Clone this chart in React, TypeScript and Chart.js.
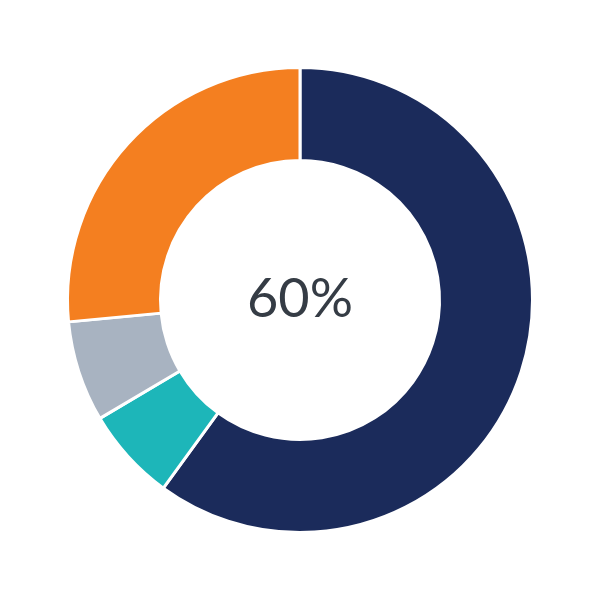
import React, { useEffect, useRef } from "react";
import { Chart, registerables } from "chart.js";

Chart.register(...registerables);

const labels = ["Navy", "Teal", "Gray", "Orange"];
const values = [60, 6.5, 7, 26.5];
const colors = ["#1b2b5b", "#1db6b9", "#a8b3c1", "#f47f20"];
const centerText = "60%";

export default function App() {
  const ref = useRef<HTMLCanvasElement | null>(null);
  useEffect(() => {
    if (!ref.current) return;
    const centerPlugin = {
      id: "centerText",
      afterDraw(chart: any) {
        const { ctx, chartArea } = chart;
        const cx = (chartArea.left + chartArea.right) / 2;
        const cy = (chartArea.top + chartArea.bottom) / 2;
        ctx.save();
        ctx.font = "400 54px Lato, 'Open Sans', sans-serif";
        ctx.fillStyle = "#353c45";
        ctx.textAlign = "center";
        ctx.textBaseline = "middle";
        ctx.fillText(centerText, cx, cy);
        ctx.restore();
      },
    };
    const chart = new Chart(ref.current, {
      type: "doughnut",
      data: {
        labels,
        datasets: [
          {
            data: values,
            backgroundColor: colors,
            borderColor: "#ffffff",
            borderWidth: 3,
          },
        ],
      },
      options: {
        animation: false,
        responsive: true,
        maintainAspectRatio: false,
        cutout: "60%",
        layout: { padding: 66 },
        plugins: {
          legend: { display: false },
          tooltip: { enabled: false },
        },
      },
      plugins: [centerPlugin],
    });
    return () => chart.destroy();
  }, []);
  return (
    <div style={{ position: "absolute", left: 0, top: 0, width: 600, height: 600, background: "#fff" }}>
      <canvas ref={ref} />
    </div>
  );
}
